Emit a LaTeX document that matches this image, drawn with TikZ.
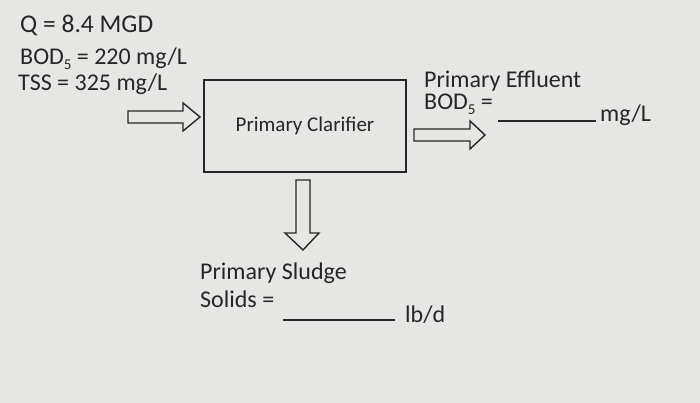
\documentclass[tikz,border=0pt]{standalone}
\usepackage{fontspec}
\setmainfont{Carlito}
\usetikzlibrary{calc}
\definecolor{bg}{RGB}{230,230,228}
\definecolor{ink}{RGB}{38,38,38}
\newcommand{\subfive}{\raisebox{-0.4ex}{\fontsize{15}{16}\selectfont 5}}
\tikzset{
  blk/.style={draw=ink, line width=1.4pt, line join=miter},
  big/.style={text=ink, inner sep=0pt, anchor=base west, font=\fontsize{24}{28}\selectfont},
  mid/.style={text=ink, inner sep=0pt, font=\fontsize{21}{24}\selectfont},
  blank/.style={draw=ink, line width=1.1pt}
}
\begin{document}
\begin{tikzpicture}[x=1pt,y=-1pt]
\fill[bg] (0,0) rectangle (700,403);
\useasboundingbox (0,0) rectangle (700,403);
% influent data
\node[big, font=\fontsize{25.5}{30}\selectfont] (q) at (20,33) {Q = 8.4 MGD};
\node[big] (bod) at (20,65) {BOD\subfive{} = 220 mg/L};
\node[big] (tss) at (18,91) {TSS = 325 mg/L};
% clarifier
\node[blk, minimum width=202pt, minimum height=92pt, inner sep=0pt] (clar) at (305,126) {};
\node[mid] (clartxt) at (clar.center) {Primary Clarifier};
% input arrow
\coordinate (inA) at (128,117);
\draw[blk] ($(inA)+(0,-6)$) -- ++(55,0) -- ++(0,-8) -- ($(inA)+(72,0)$) -- ++(-17,14) -- ++(0,-8) -- ++(-55,0) -- cycle;
% effluent arrow
\coordinate (outA) at (414,135);
\draw[blk] ($(outA)+(0,-6)$) -- ++(56,0) -- ++(0,-8) -- ($(outA)+(71,0)$) -- ++(-15,14) -- ++(0,-8) -- ++(-56,0) -- cycle;
% sludge arrow
\coordinate (dnA) at (303,180);
\draw[blk] ($(dnA)+(-7,0)$) -- ++(0,53) -- ++(-11,0) -- ($(dnA)+(0,70)$) -- ++(16,-17) -- ++(-9,0) -- ++(0,-53) -- cycle;
% effluent text
\node[big] (eff)  at (424,88) {Primary Effluent};
\node[big] (ebod) at (424,110) {BOD\subfive{} =};
\coordinate (eb1) at (498,121);
\coordinate (eb2) at (596,121);
\draw[blank] (eb1) -- (eb2);
\node[big] (emg) at (600,122) {mg/L};
% sludge text
\node[big] (sl)  at (200,279) {Primary Sludge};
\node[big] (sol) at (200,307) {Solids =};
\coordinate (sb1) at (283,320);
\coordinate (sb2) at (395,320);
\draw[blank] (sb1) -- (sb2);
\node[big] (lbd) at (405,322) {lb/d};
\end{tikzpicture}
\end{document}
